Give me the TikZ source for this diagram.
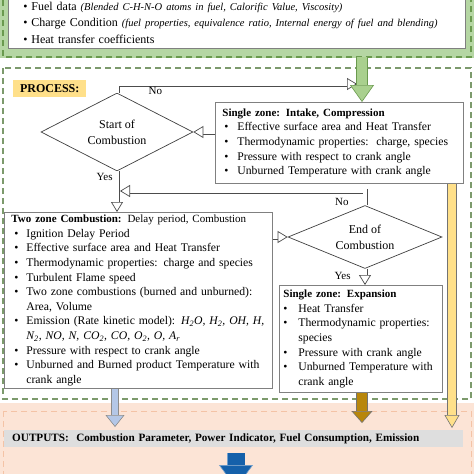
\documentclass[tikz,border=0pt]{standalone}
\usepackage{fontspec}
\setmainfont{Liberation Serif}
\usepackage{tikz}
\usetikzlibrary{arrows.meta,shapes.geometric}

\definecolor{ingreen}{HTML}{B5D6A3}
\definecolor{indash}{HTML}{6A9A4E}
\definecolor{arrgreen}{HTML}{A9D08E}
\definecolor{procdash}{HTML}{7C9A6C}
\definecolor{procgold}{HTML}{FFE08A}
\definecolor{boxgrey}{HTML}{808080}
\definecolor{outpeach}{HTML}{FCE4D6}
\definecolor{outdash}{HTML}{F4C3A6}
\definecolor{outgrey}{HTML}{DEDEDE}
\definecolor{arrblue}{HTML}{B4C7E7}
\definecolor{arrbrown}{HTML}{B8860B}
\definecolor{arrdeep}{HTML}{1560AA}

\newlength\bulpos
\newlength\bulind
\newcommand{\bulset}[2]{\setlength\bulpos{#1}\setlength\bulind{#2}}
\newcommand{\bul}[1]{\par\hangindent=\bulind\hangafter=1\noindent\makebox[\bulind][l]{\hspace{\bulpos}\textbullet}#1}
\newcommand{\smit}[1]{{\fontsize{10.5}{16.5}\selectfont\textit{#1}}}

\begin{document}
\begin{tikzpicture}[x=1pt,y=-1pt,
    every node/.style={font=\fontsize{11.7}{14.6}\selectfont},
    info box/.style={rectangle,draw=boxgrey,line width=0.8pt,fill=white,
                     align=left,anchor=north west,inner ysep=0pt},
    decision node/.style={diamond,draw=black!75,line width=0.7pt,aspect=2.4,
                     inner sep=0pt,align=center,font=\fontsize{12}{16}\selectfont},
    region/.style={line width=1.3pt,dash pattern=on 6pt off 4pt},
    tag text/.style={font=\fontsize{11}{13}\selectfont,inner sep=1pt},
    hollow arrow/.style={draw=black!70,line width=0.7pt,double=white,double distance=3.6pt,
                     -{Triangle[width=12pt,length=10pt,fill=white,line width=0.7pt]}},
    fat arrow/.style n args={5}{draw=#2,line width=0.6pt,double=#1,double distance=#3,
                     -{Triangle[width=#4,length=#5,fill=#1,line width=0.6pt]}}]

  \clip (0,0) rectangle (474,474);

  % regions
  \fill[ingreen] (0,-10) rectangle (474,58);
  \draw[region,draw=indash] (3,-10) rectangle (471,57);
  \draw[region,draw=procdash,fill=white] (3,68) rectangle (471,399);
  \fill[outpeach] (0,403) rectangle (474,480);
  \draw[region,draw=outdash,line width=0.8pt] (3,411) rectangle (471,490);

  \node[info box,anchor=south west,text width=441pt,inner xsep=8pt,inner ysep=5pt,
        font=\fontsize{12}{16.5}\selectfont] (inbox) at (8,49) {\bulset{7pt}{15pt}%
    \bul{Fuel data \smit{(Blended C-H-N-O atoms in fuel, Calorific Value, Viscosity)}}
    \bul{Charge Condition \smit{(fuel properties, equivalence ratio, Internal energy of fuel and blending)}}
    \bul{Heat transfer coefficients}\par};

  \node[rectangle,fill=procgold,minimum width=73pt,minimum height=17pt,anchor=north west,
        font=\bfseries\fontsize{12}{14}\selectfont] (proc) at (13,80) {PROCESS:};

  \node[decision node,minimum width=152pt,minimum height=78pt] (start) at (117,132) {Start of\\Combustion};

  \node[info box,text width=234pt,inner xsep=7pt,minimum height=81pt] (intake) at (215,102) {\bulset{2pt}{15pt}%
    {\fontsize{11}{14.6}\selectfont\noindent\textbf{Single zone: Intake, Compression}\par}
    \bul{Effective surface area and Heat Transfer}
    \bul{Thermodynamic properties:\ \ charge, species}
    \bul{Pressure with respect to crank angle}
    \bul{Unburned Temperature with crank angle}\par};

  \node[info box,text width=254pt,inner xsep=7pt,minimum height=176pt] (twozone) at (4,212) {\bulset{3pt}{15pt}%
    {\fontsize{11}{14.6}\selectfont\noindent\textbf{Two zone Combustion:} Delay period, Combustion\par}
    \bul{Ignition Delay Period}
    \bul{Effective surface area and Heat Transfer}
    \bul{Thermodynamic properties: charge and species}
    \bul{Turbulent Flame speed}
    \bul{Two zone combustions (burned and unburned):\newline Area, Volume}
    \bul{Emission (Rate kinetic model): \textit{H\textsubscript{2}O, H\textsubscript{2}, OH, H,\newline
         N\textsubscript{2}, NO, N, CO\textsubscript{2}, CO, O\textsubscript{2}, O, A\textsubscript{r}}}
    \bul{Pressure with respect to crank angle}
    \bul{Unburned and Burned product Temperature with\newline crank angle}\par};

  \node[decision node,minimum width=154pt,minimum height=63pt] (end) at (365,237) {End of\\Combustion};

  \node[info box,text width=155pt,inner xsep=4pt,minimum height=107pt] (expan) at (279,285) {\bulset{0pt}{15pt}%
    {\fontsize{11}{14.6}\selectfont\noindent\textbf{Single zone: Expansion}\par}
    \bul{Heat Transfer}
    \bul{Thermodynamic properties:\newline species}
    \bul{Pressure with crank angle}
    \bul{Unburned Temperature with\newline crank angle}\par};

  \node[rectangle,fill=outgrey,anchor=north west,text width=443pt,inner xsep=8pt,inner ysep=0pt,
        minimum height=17pt,font=\bfseries\fontsize{11.2}{14}\selectfont] (outbar) at (4,430)
    {OUTPUTS:\ \ Combustion Parameter, Power Indicator, Fuel Consumption, Emission};

  \coordinate (noA) at (357,84);
  \coordinate (noB) at (120,191);
  \coordinate (gx) at (362,57);
  \coordinate (bx) at (115,0);
  \coordinate (rx) at (362,0);
  \coordinate (yx) at (452,0);
  \coordinate (dx) at (236,0);

  \draw[hollow arrow] (start.north) |- node[tag text,pos=0.58,below=2pt] {No} (noA);
  \draw[hollow arrow] (intake.west |- start.east) -- (start.east);
  \draw[hollow arrow] (start.south) -- node[tag text,pos=0.15,left=3pt] {Yes} (start.south |- twozone.north);
  \draw[hollow arrow] (end.north) |- node[tag text,pos=0.1,left=15pt] {No} (noB);
  \draw[hollow arrow] (twozone.east |- end.west) -- (end.west);
  \draw[hollow arrow] (end.south) -- node[tag text,pos=0.47,left=13pt] {Yes} (end.south |- expan.north);

  \draw[fat arrow={arrgreen}{indash}{10pt}{24pt}{17pt}] (gx) -- (gx |- intake.north);
  \draw[fat arrow={arrblue}{black!45}{6pt}{19pt}{12pt}] (twozone.south -| bx) -- (bx |- 0,427);
  \draw[fat arrow={arrbrown}{black!55}{10pt}{21pt}{12pt}] (expan.south -| rx) -- (rx |- 0,423);
  \draw[fat arrow={procgold}{black!55}{8pt}{15pt}{13pt}] (intake.south -| yx) -- (yx |- 0,428);
  \draw[fat arrow={arrdeep}{arrdeep!60!white}{17pt}{34pt}{23pt}] (dx |- 0,453) -- (dx |- 0,488);
\end{tikzpicture}
\end{document}
